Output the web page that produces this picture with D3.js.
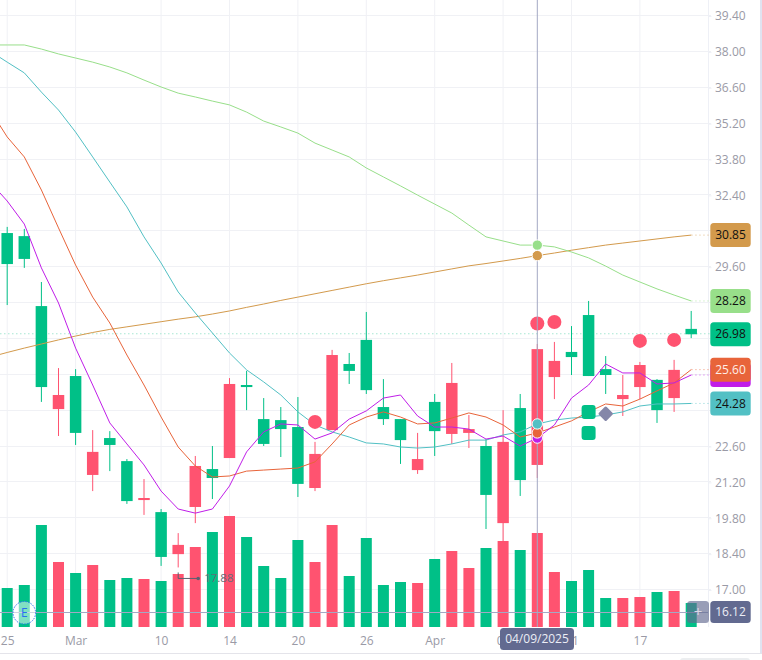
<!DOCTYPE html>
<html><head><meta charset="utf-8">
<script src="https://cdn.jsdelivr.net/npm/d3@7"></script>
<style>html,body{margin:0;padding:0;background:#fff;overflow:hidden}svg{display:block;font-family:'Open Sans',sans-serif}</style>
</head><body><svg id="c" width="762" height="660"></svg>
<script>
const dates=["02/24","02/25","02/26","02/27","02/28","03/03","03/04","03/05","03/06","03/07","03/10","03/11","03/12","03/13","03/14","03/17","03/18","03/19","03/20","03/21","03/24","03/25","03/26","03/27","03/28","03/31","04/01","04/02","04/03","04/04","04/07","04/08","04/09","04/10","04/11","04/14","04/15","04/16","04/17","04/21","04/22","04/23"];
// candles start at 02/25 (02/24 is only off-screen for the averages)
const opens=[30.93,30.81,28.08,24.06,25.35,21.49,22.93,22.03,20.51,20.04,18.40,20.24,21.72,22.15,25.00,23.67,23.63,23.36,20.98,23.24,25.82,26.76,24.14,23.67,21.68,24.34,23.09,23.13,22.62,19.61,24.10,21.88,25.31,26.29,27.73,25.62,24.45,24.92,25.20,24.49,27.19];
const closes=[29.72,29.92,24.92,24.61,23.13,22.39,22.66,20.47,20.59,18.29,18.76,21.84,21.37,25.04,24.92,22.70,23.28,21.14,22.31,26.17,25.55,24.80,23.67,22.85,22.11,23.20,25.08,23.28,20.71,22.78,21.29,26.40,25.94,26.09,25.35,25.39,24.61,25.78,24.02,25.59,26.98];
const highs=[31.17,31.09,29.02,25.66,25.62,23.24,23.20,22.11,21.33,20.16,19.22,22.23,22.62,25.27,25.55,24.49,24.14,24.53,22.78,26.37,26.25,27.85,25.23,23.67,23.13,24.65,25.86,23.83,22.89,24.02,24.65,26.60,26.68,27.30,28.28,26.13,25.39,25.90,25.23,25.98,27.89];
const lows=[28.12,29.57,24.34,23.01,22.66,20.86,21.64,20.36,19.93,17.94,17.88,19.61,20.55,22.15,24.02,22.62,22.19,20.63,20.86,23.24,25.04,24.65,23.44,21.92,21.53,22.23,22.70,22.54,19.38,18.91,20.67,21.37,24.45,25.39,25.35,24.65,23.79,24.45,23.52,23.95,26.83];
const volumes=[39,42,102,65,54,62,47,49,48,46,53,80,95,111,90,61,49,87,65,102,51,89,42,45,44,68,76,59,79,86,77,94,55,46,57,29,29,30,35,36,24];
const ma5=[32.92,32.18,31.28,29.57,28.20,26.44,25.00,23.52,22.70,21.88,20.86,20.16,20.00,20.16,21.06,22.39,23.17,23.48,23.44,22.89,23.13,23.67,23.99,24.49,24.61,23.79,23.36,23.36,23.28,22.89,23.01,22.62,22.93,23.44,24.49,25.00,25.82,25.47,25.47,25.04,25.08,25.39];
const ma10=[35.73,34.68,33.90,32.61,31.13,29.68,28.43,27.42,26.17,25.00,23.75,22.58,21.84,21.41,21.45,21.64,21.68,21.72,21.76,22.00,22.70,23.44,23.75,23.95,23.75,23.48,23.52,23.71,23.91,23.75,23.44,22.97,23.13,23.36,23.60,23.95,24.26,24.18,24.45,24.77,25.08,25.60];
const ma20=[38.03,37.60,37.18,36.43,35.73,34.87,33.90,32.92,31.95,30.78,29.76,28.63,27.81,27.03,26.25,25.59,25.12,24.61,23.95,23.44,23.17,22.97,22.74,22.70,22.58,22.54,22.58,22.70,22.85,22.85,23.05,23.17,23.48,23.63,23.71,23.75,23.83,23.95,24.18,24.26,24.26,24.28];
const ma60=[38.27,38.27,38.27,38.11,37.92,37.76,37.60,37.41,37.18,36.90,36.63,36.39,36.24,36.08,35.93,35.65,35.30,35.07,34.83,34.44,34.17,33.90,33.47,33.12,32.77,32.41,32.06,31.71,31.24,30.78,30.62,30.46,30.46,30.39,30.19,29.96,29.64,29.29,29.02,28.75,28.51,28.28];
const ma120=[26.09,26.27,26.44,26.60,26.76,26.91,27.05,27.17,27.27,27.37,27.47,27.57,27.66,27.77,27.89,28.03,28.16,28.30,28.43,28.56,28.69,28.82,28.95,29.07,29.18,29.29,29.41,29.53,29.65,29.74,29.84,29.94,30.05,30.15,30.26,30.36,30.46,30.54,30.62,30.70,30.78,30.85];
const gridPrices=[39.4,38,36.6,35.2,33.8,32.4,31,29.6,28.2,26.8,25.4,24,22.6,21.2,19.8,18.4,17];
const priceTicks=[39.4,38,36.6,35.2,33.8,32.4,29.6,22.6,21.2,19.8,18.4,17];
const dateTicks=["02/25","03/03","03/10","03/14","03/20","03/26","04/01","04/07","04/11","04/17"];
const dateTickLabels=["25","Mar","10","14","20","26","Apr","07","11","17"];
const circleSignals=[["03/21",23.56],["04/09",27.40],["04/10",27.46],["04/17",26.72],["04/22",26.76]];
const squareSignals=[["04/14",23.95],["04/14",23.13]];
const diamondSignals=[["04/15",23.88]];

const GREEN="#00c087",RED="#ff5370",PURPLE="#c01de8",ORANGE="#e8643a",TEAL="#52c0c4",LGREEN="#98df8a",GOLD="#d39a4c",SLATE="#626a90";
const axisRightX=708.5;
const svg=d3.select("#c");
const x=d3.scalePoint().domain(dates).range([-9.9,691.2]);
const y=d3.scaleLinear().domain([17,39.4]).range([590,16]);
const v=d3.scaleLinear().domain([0,120]).range([627,507]);
const snap=p=>Math.floor(p-0.4)+0.5;
const cd=dates.slice(1);

// grid
svg.append("g").selectAll("line").data(gridPrices).join("line")
 .attr("x1",0).attr("x2",711).attr("y1",d=>snap(y(d))).attr("y2",d=>snap(y(d))).attr("stroke","#f0f1f5");
svg.append("g").selectAll("line").data(dateTicks).join("line")
 .attr("x1",d=>x(d)).attr("x2",d=>x(d)).attr("y1",0).attr("y2",627).attr("stroke","#f0f1f5");

// axes
const ya=svg.append("g").attr("transform",`translate(${axisRightX},0)`)
 .call(d3.axisRight(y).tickValues(priceTicks).tickFormat(d3.format(".2f")).tickSize(3).tickPadding(3.5));
ya.select(".domain").remove();
ya.append("line").attr("y1",0).attr("y2",627).attr("stroke","#eef0f6");
ya.selectAll("line").attr("stroke","#eef0f6");
ya.selectAll("text").attr("fill","#9a9aa6").attr("font-size",12).attr("font-family","'Open Sans',sans-serif");
const xa=svg.append("g").attr("transform","translate(0,627)")
 .call(d3.axisBottom(x).tickValues(dateTicks).tickFormat((d,i)=>dateTickLabels[i]).tickSize(0).tickPadding(9));
xa.select(".domain").remove();
xa.selectAll("text").attr("fill","#9a9aa6").attr("font-size",12).attr("font-family","'Open Sans',sans-serif");
svg.append("line").attr("x1",0).attr("x2",762).attr("y1",653.5).attr("y2",653.5).attr("stroke","#e4e4ea");
svg.append("rect").attr("x",760).attr("y",0).attr("width",2).attr("height",653).attr("fill","#e0e3f0");
svg.append("rect").attr("x",680).attr("y",658).attr("width",70).attr("height",6).attr("rx",3).attr("fill","#eceef0");

// last price dotted line
svg.append("line").attr("x1",0).attr("x2",710).attr("y1",y(closes[40])-0.5).attr("y2",y(closes[40])-0.5)
 .attr("stroke","#a8e8d3").attr("stroke-width",1.2).attr("stroke-dasharray","1.5 2.5");

// volumes
svg.append("g").selectAll("rect").data(volumes).join("rect")
 .attr("x",(d,i)=>x(cd[i])-5.5).attr("width",11).attr("y",d=>v(d)).attr("height",d=>v(0)-v(d))
 .attr("fill",(d,i)=>closes[i]>=opens[i]?RED:GREEN);

// candles
const col=i=>closes[i]>=opens[i]?RED:GREEN;
svg.append("g").selectAll("line").data(cd).join("line")
 .attr("x1",d=>x(d)).attr("x2",d=>x(d))
 .attr("y1",(d,i)=>y(highs[i])).attr("y2",(d,i)=>y(lows[i]))
 .attr("stroke",(d,i)=>col(i)).attr("stroke-width",1);
svg.append("g").selectAll("rect").data(cd).join("rect")
 .attr("x",d=>x(d)-5.75).attr("width",11.5)
 .attr("y",(d,i)=>y(Math.max(opens[i],closes[i])))
 .attr("height",(d,i)=>Math.max(1,Math.abs(y(opens[i])-y(closes[i]))))
 .attr("fill",(d,i)=>col(i));

// moving averages
const line=d3.line().x((d,i)=>x(dates[i])).y(d=>y(d));
[[ma120,GOLD,1],[ma60,LGREEN,1],[ma20,TEAL,1],[ma10,ORANGE,1],[ma5,PURPLE,1]].forEach(([s,c,w])=>{
  svg.append("path").attr("d",line(s)).attr("fill","none").attr("stroke",c).attr("stroke-width",w);
  svg.append("line").attr("x1",x(dates[41])).attr("x2",710).attr("y1",y(s[41])).attr("y2",y(s[41]))
   .attr("stroke",c).attr("stroke-opacity",.45).attr("stroke-dasharray","1.5 2.5");
});

// signals
svg.append("g").selectAll("circle").data(circleSignals).join("circle")
 .attr("cx",d=>x(d[0])).attr("cy",d=>y(d[1])).attr("r",7).attr("fill",RED);
svg.append("g").selectAll("rect").data(squareSignals).join("rect")
 .attr("x",d=>x(d[0])-7).attr("y",d=>y(d[1])-7).attr("width",14).attr("height",14).attr("rx",3).attr("fill",GREEN);
svg.append("g").selectAll("rect").data(diamondSignals).join("rect")
 .attr("x",-5.5).attr("y",-5.5).attr("width",11).attr("height",11).attr("rx",1.5).attr("fill","#8587a9")
 .attr("transform",d=>`translate(${x(d[0])},${y(d[1])}) rotate(45)`);

// low label
const lowI=lows.indexOf(d3.min(lows)), lx=x(cd[lowI]), ly=y(lows[lowI]);
svg.append("path").attr("d",d3.line()([[lx,ly+5],[lx,ly+11],[lx+20,ly+11]])).attr("fill","none").attr("stroke","#5c6070").attr("stroke-width",1);
svg.append("circle").attr("cx",lx+20).attr("cy",ly+11).attr("r",1.8).attr("fill","#5c6070");
svg.append("text").attr("x",lx+26).attr("y",ly+11).attr("dy",".34em").attr("font-size",11.5).attr("fill","#666c78").text(d3.format(".2f")(lows[lowI]));

// crosshair
const hd="04/09",hi=dates.indexOf(hd),crossPrice=16.12;
svg.append("line").attr("x1",x(hd)).attr("x2",x(hd)).attr("y1",0).attr("y2",627).attr("stroke","#a3a8c4");
svg.append("line").attr("x1",0).attr("x2",708).attr("y1",612.5).attr("y2",612.5).attr("stroke","#a3a8c4");

// hover dots
[[ma60,LGREEN],[ma120,GOLD],[ma5,PURPLE],[ma10,ORANGE],[ma20,TEAL]].forEach(([s,c])=>{
  svg.append("circle").attr("cx",x(hd)).attr("cy",y(s[hi])).attr("r",5.2).attr("fill",c).attr("stroke","#fff").attr("stroke-width",1);
});

// earnings marker
svg.append("circle").attr("cx",x("02/26")).attr("cy",612.8).attr("r",11.3).attr("fill","#fff").attr("fill-opacity",.5)
 .attr("stroke","#2a6ef0").attr("stroke-width",1).attr("stroke-dasharray","1.5 1.2");
svg.append("text").attr("x",x("02/26")).attr("y",612.8).attr("dy",".36em").attr("text-anchor","middle").attr("font-size",12).attr("fill","#2a6ef0").text("E");

// price pills
function pill(val,fill,tc,txt){
  const py=y(val);
  svg.append("rect").attr("x",710.3).attr("y",py-12).attr("width",40.4).attr("height",24).attr("rx",3.5).attr("fill",fill);
  if(txt!==false) svg.append("text").attr("x",730.5).attr("y",py).attr("dy",".35em").attr("text-anchor","middle").attr("font-size",12).attr("fill",tc).text(d3.format(".2f")(val));
}
pill(ma120[41],GOLD,"#111");
pill(ma60[41],LGREEN,"#111");
pill(closes[40],GREEN,"#111");
pill(ma5[41],PURPLE,"#fff",false);
pill(ma10[41],ORANGE,"#ffeee6");
pill(ma20[41],TEAL,"#111");

// crosshair pills
svg.append("rect").attr("x",687).attr("y",601).attr("width",22).attr("height",22).attr("rx",3.5).attr("fill",SLATE).attr("fill-opacity",.65);
svg.append("text").attr("x",698).attr("y",612).attr("dy",".35em").attr("text-anchor","middle").attr("font-size",15).attr("fill","#d8dae6").text("+");
svg.append("rect").attr("x",710.3).attr("y",601).attr("width",40.4).attr("height",22).attr("rx",3.5).attr("fill",SLATE);
svg.append("text").attr("x",730.5).attr("y",612).attr("dy",".35em").attr("text-anchor","middle").attr("font-size",12).attr("fill","#eceef6").text(d3.format(".2f")(crossPrice));
svg.append("rect").attr("x",500).attr("y",628).attr("width",74).attr("height",22).attr("rx",3.5).attr("fill",SLATE);
svg.append("text").attr("x",537).attr("y",639).attr("dy",".35em").attr("text-anchor","middle").attr("font-size",12).attr("fill","#eceef6").text("04/09/2025");
</script></body></html>
